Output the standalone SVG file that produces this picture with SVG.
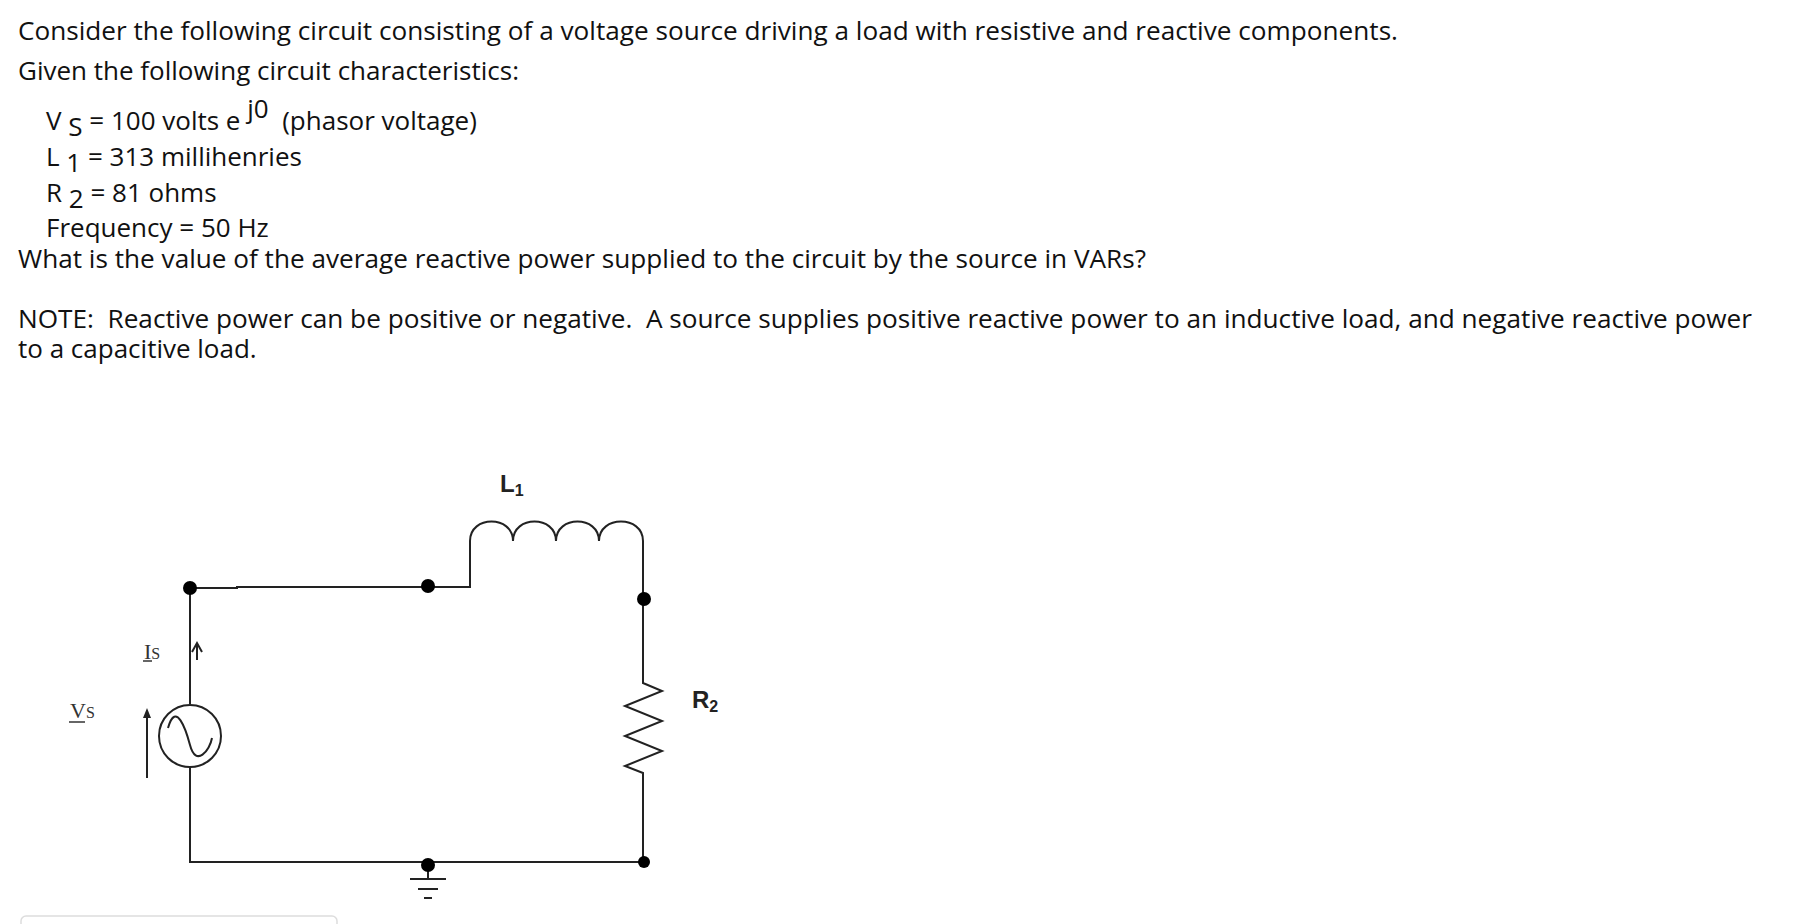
<svg xmlns="http://www.w3.org/2000/svg" width="1802" height="924" viewBox="0 0 1802 924">
<style>
.t{font-family:"Open Sans","Noto Sans",sans-serif;font-size:26px;fill:#111;white-space:pre}
.w{fill:none;stroke:#222;stroke-width:2}
.d{fill:#000}
.lb{font-family:"Liberation Sans",Arial,sans-serif;font-weight:bold;font-size:24px;fill:#222}
.ls{font-family:"Liberation Serif","Times New Roman",serif;font-size:22px;fill:#333}
</style>
<rect width="1802" height="924" fill="#fff"/>
<g id="text" xml:space="preserve">
<text class="t" x="18" y="40" textLength="1380" lengthAdjust="spacingAndGlyphs">Consider the following circuit consisting of a voltage source driving a load with resistive and reactive components.</text>
<text class="t" x="18" y="80">Given the following circuit characteristics:</text>
<text class="t" x="46" y="130">V <tspan dy="6">S</tspan><tspan dy="-6"> = 100 volts e </tspan><tspan dy="-12">j0</tspan><tspan dy="12">  (phasor voltage)</tspan></text>
<text class="t" x="46" y="166">L<tspan dy="6"> 1</tspan><tspan dy="-6"> = 313 millihenries</tspan></text>
<text class="t" x="46" y="202">R<tspan dy="6"> 2</tspan><tspan dy="-6"> = 81 ohms</tspan></text>
<text class="t" x="46" y="237">Frequency = 50 Hz</text>
<text class="t" x="18" y="268" textLength="1128" lengthAdjust="spacingAndGlyphs">What is the value of the average reactive power supplied to the circuit by the source in VARs?</text>
<text class="t" x="18" y="328" textLength="1734" lengthAdjust="spacingAndGlyphs">NOTE:  Reactive power can be positive or negative.  A source supplies positive reactive power to an inductive load, and negative reactive power</text>
<text class="t" x="18" y="358">to a capacitive load.</text>
</g>
<g id="connectors">
<path class="w" d="M190 704 V588 H237 V587 H470 V541"/>
<path class="w" d="M470 541 C470 515 513 515 513 541 C513 515 556 515 556 541 C556 515 599 515 599 541 C599 515 643 515 643 541 V683 L662 691 L625 706 L662 721 L625 736 L662 751 L625 766 L643 773 V862 H190 V768"/>
<path class="w" d="M428 865 V879 M410 879 H446 M418 889 H438 M424 898 H432"/>
</g>
<g id="nodes">
<circle class="d" cx="190" cy="588" r="7"/>
<circle class="d" cx="428" cy="586" r="7"/>
<circle class="d" cx="644" cy="599" r="7"/>
<circle class="d" cx="644" cy="862" r="6"/>
<circle class="d" cx="428" cy="865" r="7"/>
<g id="source"><circle class="w" cx="190" cy="736" r="31" stroke="#444"/><path class="w" d="M168 728 C176 700 186 730 190 745 C196 768 210 750 212 738"/></g>
<path class="w" d="M192 652 L197 643 L202 652 M197 643 V660" stroke-width="1.5"/>
<path class="w" d="M147 778 V714" stroke-width="2"/>
<path d="M147 708 L143 718 H151 Z" fill="#222"/>
<text class="ls" x="144" y="659">I<tspan font-size="16">S</tspan></text>
<line x1="143" y1="661" x2="152" y2="661" stroke="#333" stroke-width="1.5"/>
<text class="ls" x="70" y="718">V<tspan font-size="16">S</tspan></text>
<line x1="69" y1="722" x2="85" y2="722" stroke="#333" stroke-width="1.5"/>
<text class="lb" x="500" y="492">L<tspan font-size="16" dy="4">1</tspan></text>
<text class="lb" x="692" y="708">R<tspan font-size="16" dy="4">2</tspan></text>
</g>
<rect x="21" y="916" width="316" height="20" rx="5" fill="none" stroke="#ddd" stroke-width="1.5"/>
</svg>
